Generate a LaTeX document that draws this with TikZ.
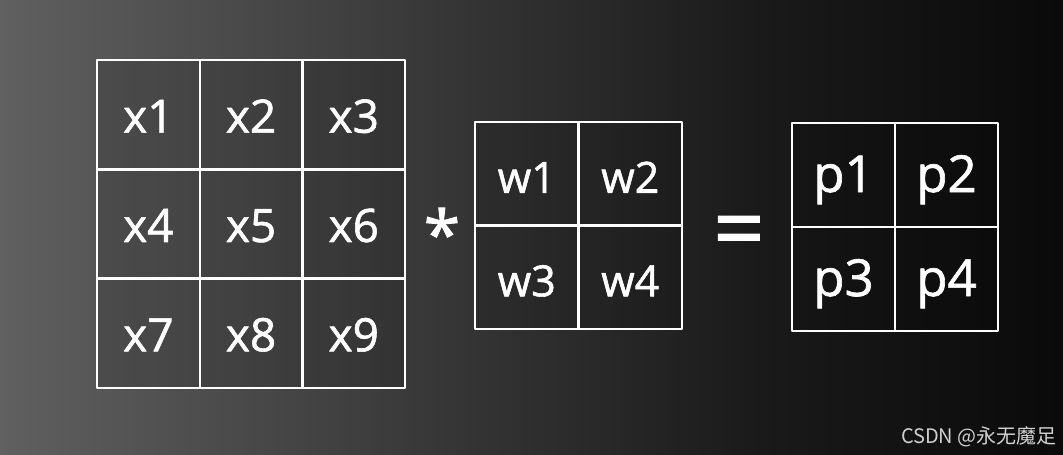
\documentclass[tikz,border=0pt]{standalone}
\usepackage{fontspec}
\setmainfont{Open Sans}
\newfontfamily\cellfont{Open Sans}[FakeBold=1.3]
\newfontfamily\cjkfont{Noto Sans CJK SC}
\definecolor{bgA}{HTML}{606060}
\definecolor{bgB}{HTML}{363636}
\definecolor{bgC}{HTML}{1A1A1A}
\definecolor{bgD}{HTML}{0A0A0A}
\definecolor{mark}{HTML}{D0D0D0}
\begin{document}
\begin{tikzpicture}
[x=1pt,y=-1pt,
 every node/.style={text=white},
 cell/.style={draw=white, line width=2.4pt, line join=round, fill=black, fill opacity=0.12, text opacity=1,
   inner sep=0pt, text depth=0pt},
 xcell/.style={cell, text height=36pt, font=\cellfont\fontsize{46}{46}\selectfont, minimum width=102.7pt, minimum height=109.3pt},
 wcell/.style={cell, text height=38pt, font=\cellfont\fontsize{43}{43}\selectfont, minimum size=103.5pt},
 pcell/.style={cell, text height=34pt, font=\cellfont\fontsize{51}{51}\selectfont, minimum width=103pt, minimum height=104pt}]
% background
\shade[left color=bgA, right color=bgB] (0,0) rectangle (450,455);
\shade[left color=bgB, right color=bgC] (450,0) rectangle (760,455);
\shade[left color=bgC, right color=bgD] (760,0) rectangle (1063,455);
\useasboundingbox (0,0) rectangle (1063,455);
% input 3x3
\foreach \r in {1,2,3}
  \foreach \c in {1,2,3}
  {
    \pgfmathtruncatemacro{\k}{3*(\r-1)+\c}
    \node[xcell] (x\k) at ({97+102.7*(\c-0.5)},{60+109.3*(\r-0.5)}) {x\k};
  }
% kernel 2x2
\foreach \r in {1,2}
  \foreach \c in {1,2}
  {
    \pgfmathtruncatemacro{\k}{2*(\r-1)+\c}
    \node[wcell] (w\k) at ({475+103.5*(\c-0.5)},{122+103.5*(\r-0.5)}) {w\k};
  }
% output 2x2
\foreach \r in {1,2}
  \foreach \c in {1,2}
  {
    \pgfmathtruncatemacro{\k}{2*(\r-1)+\c}
    \node[pcell] (p\k) at ({792+103*(\c-0.5)},{123+104*(\r-0.5)}) {p\k};
  }
\node[anchor=base, inner sep=0pt, font=\cellfont\fontsize{66}{66}\selectfont] (star) at (442,258) {*};
\node[anchor=base, inner sep=0pt, font=\cellfont\fontsize{90}{90}\selectfont] (eq) at (739,260) {=};
\node[anchor=base east, inner sep=0pt, text=mark, font=\cjkfont\fontsize{20}{20}\selectfont] (mark) at (1057,443) {CSDN @永无魔足};
\end{tikzpicture}
\end{document}
